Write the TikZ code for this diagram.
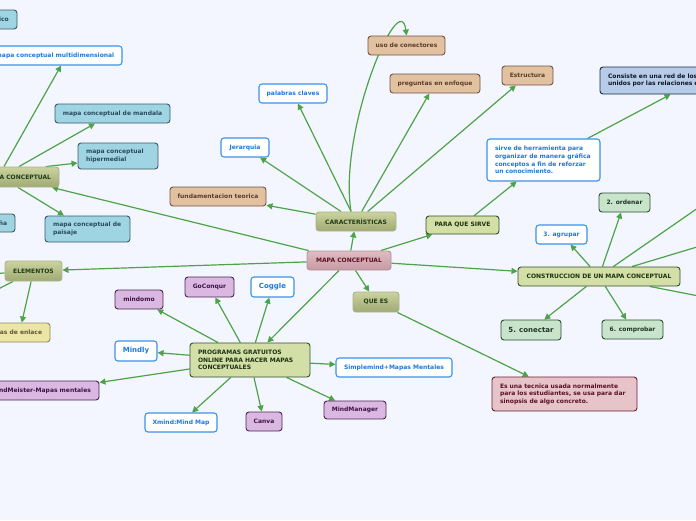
\documentclass[tikz,border=0pt]{standalone}
\usepackage{fontspec}
\setmainfont{DejaVu Sans}
\usetikzlibrary{arrows.meta,calc}
\pgfdeclarelayer{bg}
\pgfdeclarelayer{edges}
\pgfsetlayers{bg,edges,main}
\definecolor{bgc}{RGB}{243,246,254}
\definecolor{edgec}{RGB}{78,163,72}
\definecolor{oliveT}{RGB}{203,210,158}
\definecolor{oliveBot}{RGB}{160,170,116}
\definecolor{oliveD}{RGB}{172,178,140}
\definecolor{oliveTx}{RGB}{30,60,24}
\definecolor{pinkT}{RGB}{224,188,194}
\definecolor{pinkBot}{RGB}{198,154,163}
\definecolor{pinkD}{RGB}{176,146,154}
\definecolor{pinkTx}{RGB}{94,15,34}
\definecolor{solF}{RGB}{212,223,168}
\definecolor{solD}{RGB}{47,79,42}
\definecolor{solTx}{RGB}{26,51,16}
\definecolor{tanF}{RGB}{226,193,161}
\definecolor{tanD}{RGB}{110,84,68}
\definecolor{tanTx}{RGB}{91,62,42}
\definecolor{lbF}{RGB}{159,213,226}
\definecolor{lbD}{RGB}{59,89,104}
\definecolor{lbTx}{RGB}{43,74,92}
\definecolor{wbD}{RGB}{58,147,236}
\definecolor{wbTx}{RGB}{27,122,224}
\definecolor{puF}{RGB}{218,184,225}
\definecolor{puD}{RGB}{75,37,82}
\definecolor{puTx}{RGB}{61,20,69}
\definecolor{lgF}{RGB}{200,229,203}
\definecolor{lgD}{RGB}{47,75,56}
\definecolor{lgTx}{RGB}{31,51,38}
\definecolor{lvF}{RGB}{183,204,233}
\definecolor{lvD}{RGB}{30,42,68}
\definecolor{lvTx}{RGB}{16,24,40}
\definecolor{psF}{RGB}{230,196,202}
\definecolor{psD}{RGB}{108,30,46}
\definecolor{psTx}{RGB}{90,18,34}
\definecolor{yeF}{RGB}{236,230,166}
\definecolor{yeD}{RGB}{141,138,85}
\definecolor{yeTx}{RGB}{95,88,54}
\begin{document}
\begin{tikzpicture}[x=1pt,y=-1pt,
  base/.style={rounded corners=3pt, font=\bfseries\fontsize{6}{7.6}\selectfont,
    inner xsep=0pt, inner ysep=0pt, line width=0.9pt, align=center},
  big/.style={font=\bfseries\fontsize{7}{8.4}\selectfont},
  olive/.style={base, draw=oliveD, top color=oliveT, bottom color=oliveBot, text=oliveTx},
  pinkg/.style={base, draw=pinkD, top color=pinkT, bottom color=pinkBot, text=pinkTx},
  sol/.style={base, draw=solD, fill=solF, text=solTx},
  tan/.style={base, draw=tanD, fill=tanF, text=tanTx},
  lb/.style={base, draw=lbD, fill=lbF, text=lbTx},
  wb/.style={base, draw=wbD, fill=white, text=wbTx, line width=1.1pt},
  pu/.style={base, draw=puD, fill=puF, text=puTx},
  lg/.style={base, draw=lgD, fill=lgF, text=lgTx},
  lv/.style={base, draw=lvD, fill=lvF, text=lvTx},
  ps/.style={base, draw=psD, fill=psF, text=psTx},
  ye/.style={base, draw=yeD, fill=yeF, text=yeTx},
  conn/.style={draw=edgec, line width=1.2pt, -{Triangle[length=6pt,width=6pt]}}]
\useasboundingbox (0,0) rectangle (696,520);
\begin{pgfonlayer}{bg}
\fill[bgc] (0,0) rectangle (696,520);
\end{pgfonlayer}

% left column
\node[lb, minimum width=26, minimum height=19] (ico) at (4,19.5) {ico};
\node[wb, minimum width=134, minimum height=19] (multi) at (55,55.5) {mapa conceptual multidimensional};
\node[lb, minimum width=115, minimum height=19] (mandala) at (112.5,113.5) {mapa conceptual de mandala};
\node[lb, minimum width=80, minimum height=26, text width=64, align=left] (hiper) at (118,156) {mapa conceptual\\hipermedial};
\node[olive, minimum width=99, minimum height=20, text width=83, align=right] (aconc) at (9.5,177) {A CONCEPTUAL};
\node[lb, minimum width=85, minimum height=26, text width=69, align=left] (paisaje) at (87.5,229) {mapa conceptual de\\paisaje};
\node[lb, minimum width=24, minimum height=18] (nya) at (3,223) {ña};
\node[olive, minimum width=57, minimum height=20] (elem) at (33.5,271) {ELEMENTOS};
\node[ye, minimum width=61, minimum height=19] (ras) at (19.5,332.5) {ras de enlace};

% caracteristicas
\node[tan, minimum width=96, minimum height=19] (fund) at (218,196.5) {fundamentacion teorica};
\node[wb, minimum width=48, minimum height=19] (jer) at (245,147.5) {Jerarquia};
\node[wb, minimum width=68, minimum height=19] (pal) at (293,93.5) {palabras claves};
\node[olive, minimum width=80, minimum height=19] (car) at (356,221.5) {CARACTERÍSTICAS};
\node[tan, minimum width=77, minimum height=19] (uso) at (406.5,45.5) {uso de conectores};
\node[tan, minimum width=90, minimum height=19] (preg) at (435,83.5) {preguntas en enfoque};
\node[tan, minimum width=51, minimum height=19] (estr) at (527.5,75.5) {Estructura};

% para que sirve
\node[lv, minimum width=130, minimum height=27, text width=114, align=left] (cons) at (665,80.5) {Consiste en una red de los\\unidos por las relaciones e};
\node[wb, minimum width=113, minimum height=42, text width=97, align=left] (sirve) at (543.5,160) {sirve de herramienta para\\organizar de manera gráfica\\conceptos a fin de reforzar\\un conocimiento.};
\node[sol, minimum width=73, minimum height=18] (para) at (462.5,225) {PARA QUE SIRVE};

% center
\node[pinkg, minimum width=84, minimum height=19] (mapa) at (349,260.5) {MAPA CONCEPTUAL};
\node[olive, minimum width=46, minimum height=20] (quees) at (376,302) {QUE ES};

% construccion
\node[lg, minimum width=51, minimum height=19] (ord) at (624.5,202.5) {2. ordenar};
\node[wb, minimum width=51, minimum height=19] (agr) at (561.5,234.5) {3. agrupar};
\node[sol, minimum width=162, minimum height=19] (constr) at (599,276.5) {CONSTRUCCION DE UN MAPA CONCEPTUAL};
\node[lg, big, minimum width=60, minimum height=20] (con) at (531,330) {5. conectar};
\node[lg, minimum width=61, minimum height=19] (comp) at (632.5,329.5) {6. comprobar};
\coordinate (off1) at (760,165);
\coordinate (off2) at (760,228);
\coordinate (off3) at (760,308);

% programas
\node[pu, minimum width=48, minimum height=19] (mindomo) at (139,299.5) {mindomo};
\node[pu, minimum width=49, minimum height=20] (goc) at (209.5,287) {GoConqur};
\node[wb, big, minimum width=43, minimum height=20] (cog) at (272.5,287) {Coggle};
\node[wb, big, minimum width=42, minimum height=20] (mindly) at (136,351) {Mindly};
\node[sol, minimum width=120, minimum height=34, text width=104, align=left] (prog) at (250,360) {PROGRAMAS GRATUITOS\\ONLINE PARA HACER MAPAS\\CONCEPTUALES};
\node[pu, minimum width=108, minimum height=19] (meister) at (45,390.5) {ndMeister-Mapas mentales};
\node[wb, minimum width=72, minimum height=19] (xmind) at (181,422.5) {Xmind:Mind Map};
\node[pu, minimum width=36, minimum height=19] (canva) at (264,421.5) {Canva};
\node[pu, minimum width=62, minimum height=18] (mman) at (355,410) {MindManager};
\node[wb, minimum width=116, minimum height=19] (simple) at (394,367.5) {Simplemind+Mapas Mentales};
\node[ps, minimum width=145, minimum height=34, text width=129, align=left] (tec) at (564.5,394) {Es una tecnica usada normalmente\\para los estudiantes, se usa para dar\\sinopsis de algo concreto.};

\coordinate (off4) at (-40,276);
\coordinate (off5) at (-40,308.5);

\begin{pgfonlayer}{edges}
\draw[conn] (mapa) -- (car);
\draw[conn] (mapa) -- (para);
\draw[conn] (mapa) -- (constr);
\draw[conn] (mapa) -- (quees);
\draw[conn] (mapa) -- (prog);
\draw[conn] (mapa) -- (elem);
\draw[conn] (mapa) -- (aconc);
\draw[conn] (car) -- (fund);
\draw[conn] (car) -- (jer);
\draw[conn] (car) -- (pal);
\draw[conn] ([xshift=-5pt]car.north) .. controls (338,130) and (400,-15) .. (uso.north);
\draw[conn] (car) -- (preg);
\draw[conn] (car) -- (estr);
\draw[conn] (para) -- (sirve);
\draw[conn] ([xshift=-13pt]sirve.north east) -- ([xshift=71pt]cons.south west);
\draw[conn] (constr) -- (agr);
\draw[conn] (constr) -- (ord);
\draw[conn] (constr) -- (con);
\draw[conn] (constr) -- (comp);
\draw[conn] (constr) -- (off1);
\draw[conn] (constr) -- (off2);
\draw[conn] (constr) -- (off3);
\draw[conn] (quees) -- (tec);
\draw[conn] (prog) -- (mindomo);
\draw[conn] (prog) -- (goc);
\draw[conn] (prog) -- (cog);
\draw[conn] (prog) -- (mindly);
\draw[conn] (prog) -- (meister);
\draw[conn] (prog) -- (xmind);
\draw[conn] (prog) -- (canva);
\draw[conn] (prog) -- (mman);
\draw[conn] (prog) -- (simple);
\draw[conn] ([xshift=-5.5pt]aconc.north) -- ([xshift=6pt]multi.south);
\draw[conn] ([xshift=9.5pt]aconc.north) -- ([xshift=-17.5pt]mandala.south);
\draw[conn] ([xshift=36.5pt]aconc.north) -- ([yshift=-7pt]hiper.west);
\draw[conn] ([xshift=8.5pt]aconc.south) -- ([xshift=-23.5pt]paisaje.north);
\draw[conn] (elem) -- (ras);
\draw[conn] (elem) -- (off4);
\draw[conn] (elem) -- (off5);
\end{pgfonlayer}
\end{tikzpicture}
\end{document}
